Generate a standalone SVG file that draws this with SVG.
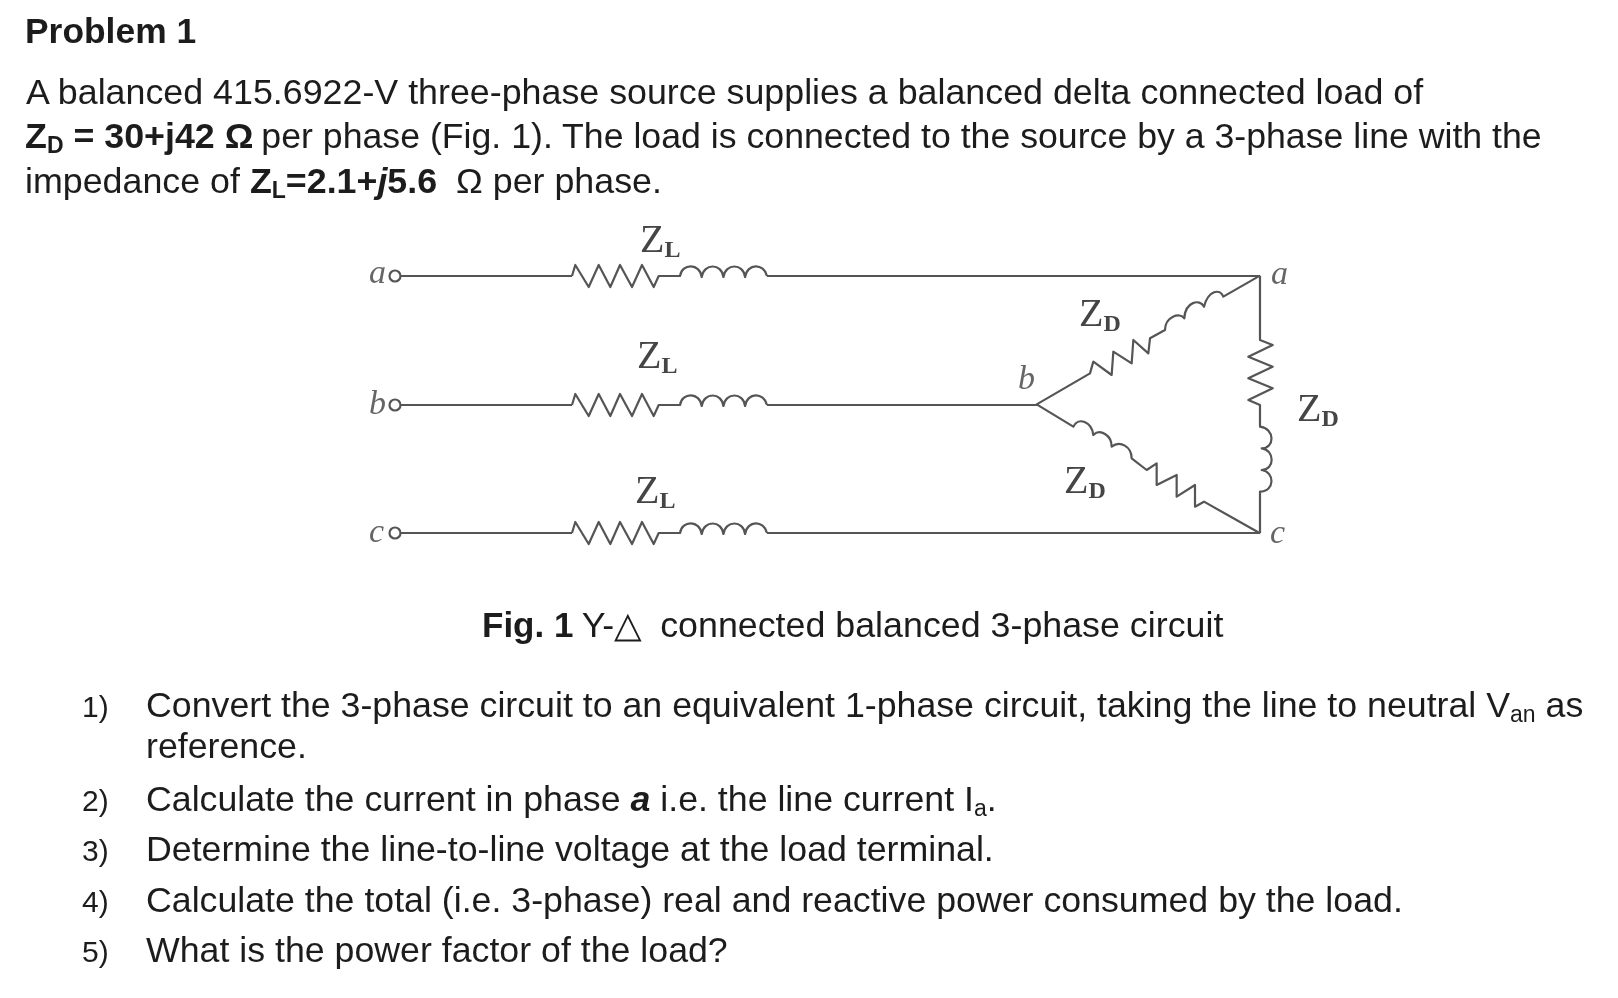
<svg xmlns="http://www.w3.org/2000/svg" width="1618" height="998" viewBox="0 0 1618 998">
<style>
text{font-family:"Liberation Sans",Arial,sans-serif;fill:#1c1c1c;font-size:35.8px}
.b{font-weight:700}
.sub{font-size:23px}
.w{fill:none;stroke:#555;stroke-width:2.2;stroke-linejoin:round}
.d{stroke-width:6.600}
.n{font-size:30px}
.q{font-size:35.720px}
text.m{font-family:"Liberation Serif",serif;fill:#444;font-size:40px}
.ms{font-family:"Liberation Serif",serif;fill:#444;font-size:24px;font-weight:700}
text.v{font-family:"Liberation Serif",serif;font-style:italic;fill:#666;font-size:34px}
</style>
<defs>
<path id="rl" d="M0 0L3.300-11 16.700 11 26.700-11 38.300 11 48-11 60 11 70-11 81.700 11 86.700 0H108C110-13 128-13 129.700 1 131.700-13 149.700-13 151.400 1 153.400-13 171.400-13 173.100 1 175.100-13 192-13 195 0"/>
<filter id="soft" x="-2%" y="-2%" width="104%" height="104%"><feGaussianBlur stdDeviation=".55"/></filter>
</defs>
<rect width="1618" height="998" fill="#fff"/>
<g id="statement" filter="url(#soft)">
<text class="b" x="25" y="43" style="font-size:35.400px">Problem 1</text>
<text x="26" y="104">A balanced 415.6922-V three-phase source supplies a balanced delta connected load of</text>
<text x="25" y="148"><tspan class="b">Z</tspan><tspan class="b sub" dy="5">D</tspan><tspan class="b" dy="-5"> = 30+j42 Ω</tspan><tspan dx="-2" style="font-size:35.680px"> per phase (Fig. 1). The load is connected to the source by a 3-phase line with the</tspan></text>
<text x="25" y="193">impedance of <tspan class="b">Z</tspan><tspan class="b sub" dy="5">L</tspan><tspan class="b" dy="-5">=2.1+<tspan font-style="italic">j</tspan>5.6</tspan><tspan dx="9"> Ω per phase.</tspan></text>
</g>
<g id="connectors" filter="url(#soft)">
<path class="w" d="M400 276H572M767 276H1260M400 405H572M767 405H1037M400 533H572M767 533H1260"/>
<use class="w" href="#rl" x="572" y="276"/>
<use class="w" href="#rl" x="572" y="405"/>
<use class="w" href="#rl" x="572" y="533"/>
<g transform="translate(1000 240) scale(.33333)">
<path class="w d" d="M780 107 670 170C660 145 625 150 612 200C600 175 555 185 553 235C540 215 495 230 495 270L450 295 445 340 400 300 395 370 340 335 335 405 280 365 270 400 110 493 220 560C235 530 275 545 280 585C300 565 335 585 335 620C360 600 395 620 395 655L440 690 470 670 470 735 530 705 530 770 585 735 585 800 612 785 780 880"/>
<path class="w d" d="M780 107V300L818 315 745 350 818 380 745 415 818 445 745 480 780 495V560C825 565 825 625 785 625 825 630 825 690 785 690 825 695 825 755 780 755V880"/>
</g>
</g>
<g id="terminal-a" filter="url(#soft)"><circle class="w" cx="395" cy="276" r="5.500"/><text class="v" x="369" y="283">a</text></g>
<g id="terminal-b" filter="url(#soft)"><circle class="w" cx="395" cy="405" r="5.500"/><text class="v" x="369" y="414">b</text></g>
<g id="terminal-c" filter="url(#soft)"><circle class="w" cx="395" cy="533" r="5.500"/><text class="v" x="369" y="542">c</text></g>
<g id="labels" filter="url(#soft)">
<text class="m" x="640" y="252">Z<tspan class="ms" dy="5">L</tspan></text>
<text class="m" x="637" y="368">Z<tspan class="ms" dy="5">L</tspan></text>
<text class="m" x="635" y="503">Z<tspan class="ms" dy="5">L</tspan></text>
<text class="m" x="1079" y="326">Z<tspan class="ms" dy="5">D</tspan></text>
<text class="m" x="1064" y="493">Z<tspan class="ms" dy="5">D</tspan></text>
<text class="m" x="1297" y="421">Z<tspan class="ms" dy="5">D</tspan></text>
<text class="v" x="1271" y="284">a</text>
<text class="v" x="1018" y="389">b</text>
<text class="v" x="1270" y="543">c</text>
</g>
<g id="caption" filter="url(#soft)">
<text x="482" y="637" style="font-size:35.800px"><tspan class="b" style="font-size:35px">Fig. 1</tspan><tspan dx="-1"> Y-△</tspan><tspan dx="8"> connected balanced 3-phase circuit</tspan></text>
</g>
<g id="questions" filter="url(#soft)">
<text class="n" x="82" y="717">1)</text><text class="q" x="146" y="717">Convert the 3-phase circuit to an equivalent 1-phase circuit, taking the line to neutral V<tspan class="sub" dy="5">an</tspan><tspan dy="-5"> as</tspan></text>
<text class="q" x="146" y="758">reference.</text>
<text class="n" x="82" y="811">2)</text><text class="q" x="146" y="811">Calculate the current in phase <tspan class="b" font-style="italic">a</tspan> i.e. the line current I<tspan class="sub" dy="5">a</tspan><tspan dy="-5">.</tspan></text>
<text class="n" x="82" y="861">3)</text><text class="q" x="146" y="861">Determine the line-to-line voltage at the load terminal.</text>
<text class="n" x="82" y="912">4)</text><text class="q" x="146" y="912">Calculate the total (i.e. 3-phase) real and reactive power consumed by the load.</text>
<text class="n" x="82" y="962">5)</text><text class="q" x="146" y="962">What is the power factor of the load?</text>
</g>
</svg>
